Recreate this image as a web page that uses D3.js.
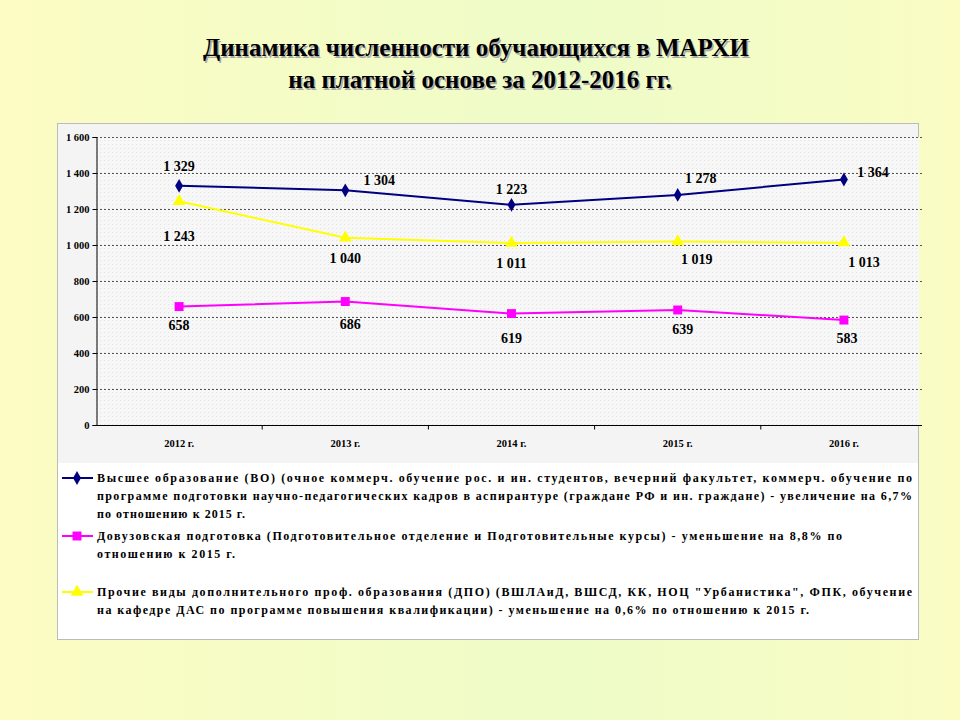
<!DOCTYPE html>
<html><head><meta charset="utf-8">
<script src="https://cdn.jsdelivr.net/npm/d3@7"></script>
<style>
body{margin:0;width:960px;height:720px;overflow:hidden;}
svg text{font-family:"Liberation Serif","DejaVu Serif",serif !important;font-weight:bold;fill:#000;}
</style></head><body>
<script>
//chart data
var years = ["2012 г.", "2013 г.", "2014 г.", "2015 г.", "2016 г."];
var vo = [1329, 1304, 1223, 1278, 1364];
var dpo = [1243, 1040, 1011, 1019, 1013];
var dovuz = [658, 686, 619, 639, 583];
var yTicks = [0, 200, 400, 600, 800, 1000, 1200, 1400, 1600];
//label offsets [dx, dy] from the point
var voLabelOff = [[0,-20],[34,-10],[0,-16],[23,-17],[29,-7]];
var dpoLabelOff = [[0,35],[0,20],[0,20],[19,17],[20,19]];
var dovuzLabelOff = [[0,18],[5,22],[0,24],[5,19],[3,18]];
var legendLines = [
  ["Высшее образование (ВО) (очное коммерч. обучение рос. и ин. студентов, вечерний факультет, коммерч. обучение по",
   "программе подготовки научно-педагогических кадров в аспирантуре (граждане РФ и ин. граждане) - увеличение на 6,7%",
   "по отношению к 2015 г."],
  ["Довузовская подготовка (Подготовительное отделение и Подготовительные курсы) - уменьшение на 8,8% по",
   "отношению к 2015 г."],
  ["Прочие виды дополнительного проф. образования (ДПО) (ВШЛАиД, ВШСД, КК, НОЦ \"Урбанистика\", ФПК, обучение",
   "на кафедре ДАС по программе повышения квалификации) - уменьшение на 0,6% по отношению к 2015 г."]
];
var legendWidths = [[815, 815, 148], [745, 138], [815, 712]];

var svg = d3.select("body").append("svg").attr("width", 960).attr("height", 720);

//background gradient
var defs = svg.append("defs");
var grad = defs.append("linearGradient").attr("id", "bg").attr("x1", 0).attr("y1", 0).attr("x2", 1).attr("y2", 0);
grad.append("stop").attr("offset", "0%").attr("stop-color", "#fcfcc4");
grad.append("stop").attr("offset", "60%").attr("stop-color", "#eefcc8");
grad.append("stop").attr("offset", "100%").attr("stop-color", "#fafcc4");
var pat = defs.append("pattern").attr("id", "dots").attr("width", 4).attr("height", 4).attr("patternUnits", "userSpaceOnUse");
pat.append("rect").attr("width", 4).attr("height", 4).attr("fill", "#f7f7f7");
pat.append("rect").attr("width", 1).attr("height", 1).attr("fill", "#e2e2e2");
svg.append("rect").attr("width", 960).attr("height", 720).attr("fill", "url(#bg)");

//title
var title = svg.append("g").style("font-size", "25px").attr("text-anchor", "middle");
[["Динамика численности обучающихся в МАРХИ", 476, 56], ["на платной основе за 2012-2016 гг.", 480, 88]].forEach(function(t){
  title.append("text").attr("x", t[1] + 1.5).attr("y", t[2] + 1.5).style("fill", "#aaa").text(t[0]);
  title.append("text").attr("x", t[1]).attr("y", t[2]).text(t[0]);
});

//chart frame
svg.append("rect").attr("x", 57.5).attr("y", 123.5).attr("width", 861).attr("height", 516)
  .attr("fill", "#fff").attr("stroke", "#bbb");
svg.append("rect").attr("x", 58).attr("y", 124).attr("width", 860).attr("height", 339).attr("fill", "#f4f4f4");

var x = d3.scaleBand().domain(years).range([96, 927]);
var y = d3.scaleLinear().domain([0, 1600]).range([425, 137]);

svg.append("rect").attr("x", 96).attr("y", 137).attr("width", 823).attr("height", 288).attr("fill", "url(#dots)");

//gridlines
svg.append("g").selectAll("line").data(yTicks.slice(1)).enter().append("line")
  .attr("x1", 96).attr("x2", 922).attr("y1", function(d){ return y(d) + 0.5; }).attr("y2", function(d){ return y(d) + 0.5; })
  .attr("stroke", "#555").attr("stroke-dasharray", "2,2");

var yAxis = svg.append("g").attr("transform", "translate(96.5,0)")
  .call(d3.axisLeft(y).tickValues(yTicks).tickSize(4).tickFormat(function(d){ return d3.format(",")(d).replace(",", " "); }));
yAxis.selectAll("text").style("font-size", "10.5px");
yAxis.select(".domain").attr("stroke", "#000");

var xAxis = svg.append("g").attr("transform", "translate(0,425.5)")
  .call(d3.axisBottom(x).tickSize(0).tickPadding(14));
xAxis.selectAll("text").style("font-size", "10.5px");
xAxis.select(".domain").attr("stroke", "#000").attr("d", "M96,0H922");
xAxis.selectAll(".bound").data(x.domain().slice(1)).enter().append("line")
  .attr("x1", function(d){ return x(d); }).attr("x2", function(d){ return x(d); })
  .attr("y1", 0).attr("y2", 4).attr("stroke", "#000");

var line = d3.line().x(function(d, i){ return x(years[i]) + x.bandwidth() / 2; }).y(function(d){ return y(d); });

var series = [
  {vals: dpo, color: "#ffff00", shape: d3.symbolTriangle, size: 70, off: dpoLabelOff},
  {vals: dovuz, color: "#ff00ff", shape: d3.symbolSquare, size: 80, off: dovuzLabelOff},
  {vals: vo, color: "#000080", shape: d3.symbolDiamond, size: 55, off: voLabelOff}
];
series.forEach(function(s){
  svg.append("path").datum(s.vals).attr("d", line).attr("fill", "none").attr("stroke", s.color).attr("stroke-width", 2);
  svg.selectAll(null).data(s.vals).enter().append("path")
    .attr("d", d3.symbol().type(s.shape).size(s.size))
    .attr("transform", function(d, i){ return "translate(" + (x(years[i]) + x.bandwidth() / 2) + "," + y(d) + ")"; })
    .attr("fill", s.color);
  svg.selectAll(null).data(s.vals).enter().append("text")
    .attr("x", function(d, i){ return x(years[i]) + x.bandwidth() / 2 + s.off[i][0]; })
    .attr("y", function(d, i){ return y(d) + s.off[i][1] + 5; })
    .attr("text-anchor", "middle").style("font-size", "14px")
    .text(function(d){ return d3.format(",")(d).replace(",", " "); });
});

//legend
var legY = [478, 536, 592];
var legSeries = [series[2], series[1], series[0]];
legSeries.forEach(function(s, k){
  var g = svg.append("g");
  g.append("line").attr("x1", 62).attr("x2", 93).attr("y1", legY[k]).attr("y2", legY[k]).attr("stroke", s.color).attr("stroke-width", 2);
  g.append("path").attr("d", d3.symbol().type(s.shape).size(s.size)).attr("transform", "translate(77," + legY[k] + ")").attr("fill", s.color);
  legendLines[k].forEach(function(t, j){
    g.append("text").attr("x", 97).attr("y", legY[k] + 4 + j * 18).style("font-size", "12px")
      .attr("textLength", legendWidths[k][j]).attr("lengthAdjust", "spacing").text(t);
  });
});
</script>
</body></html>
